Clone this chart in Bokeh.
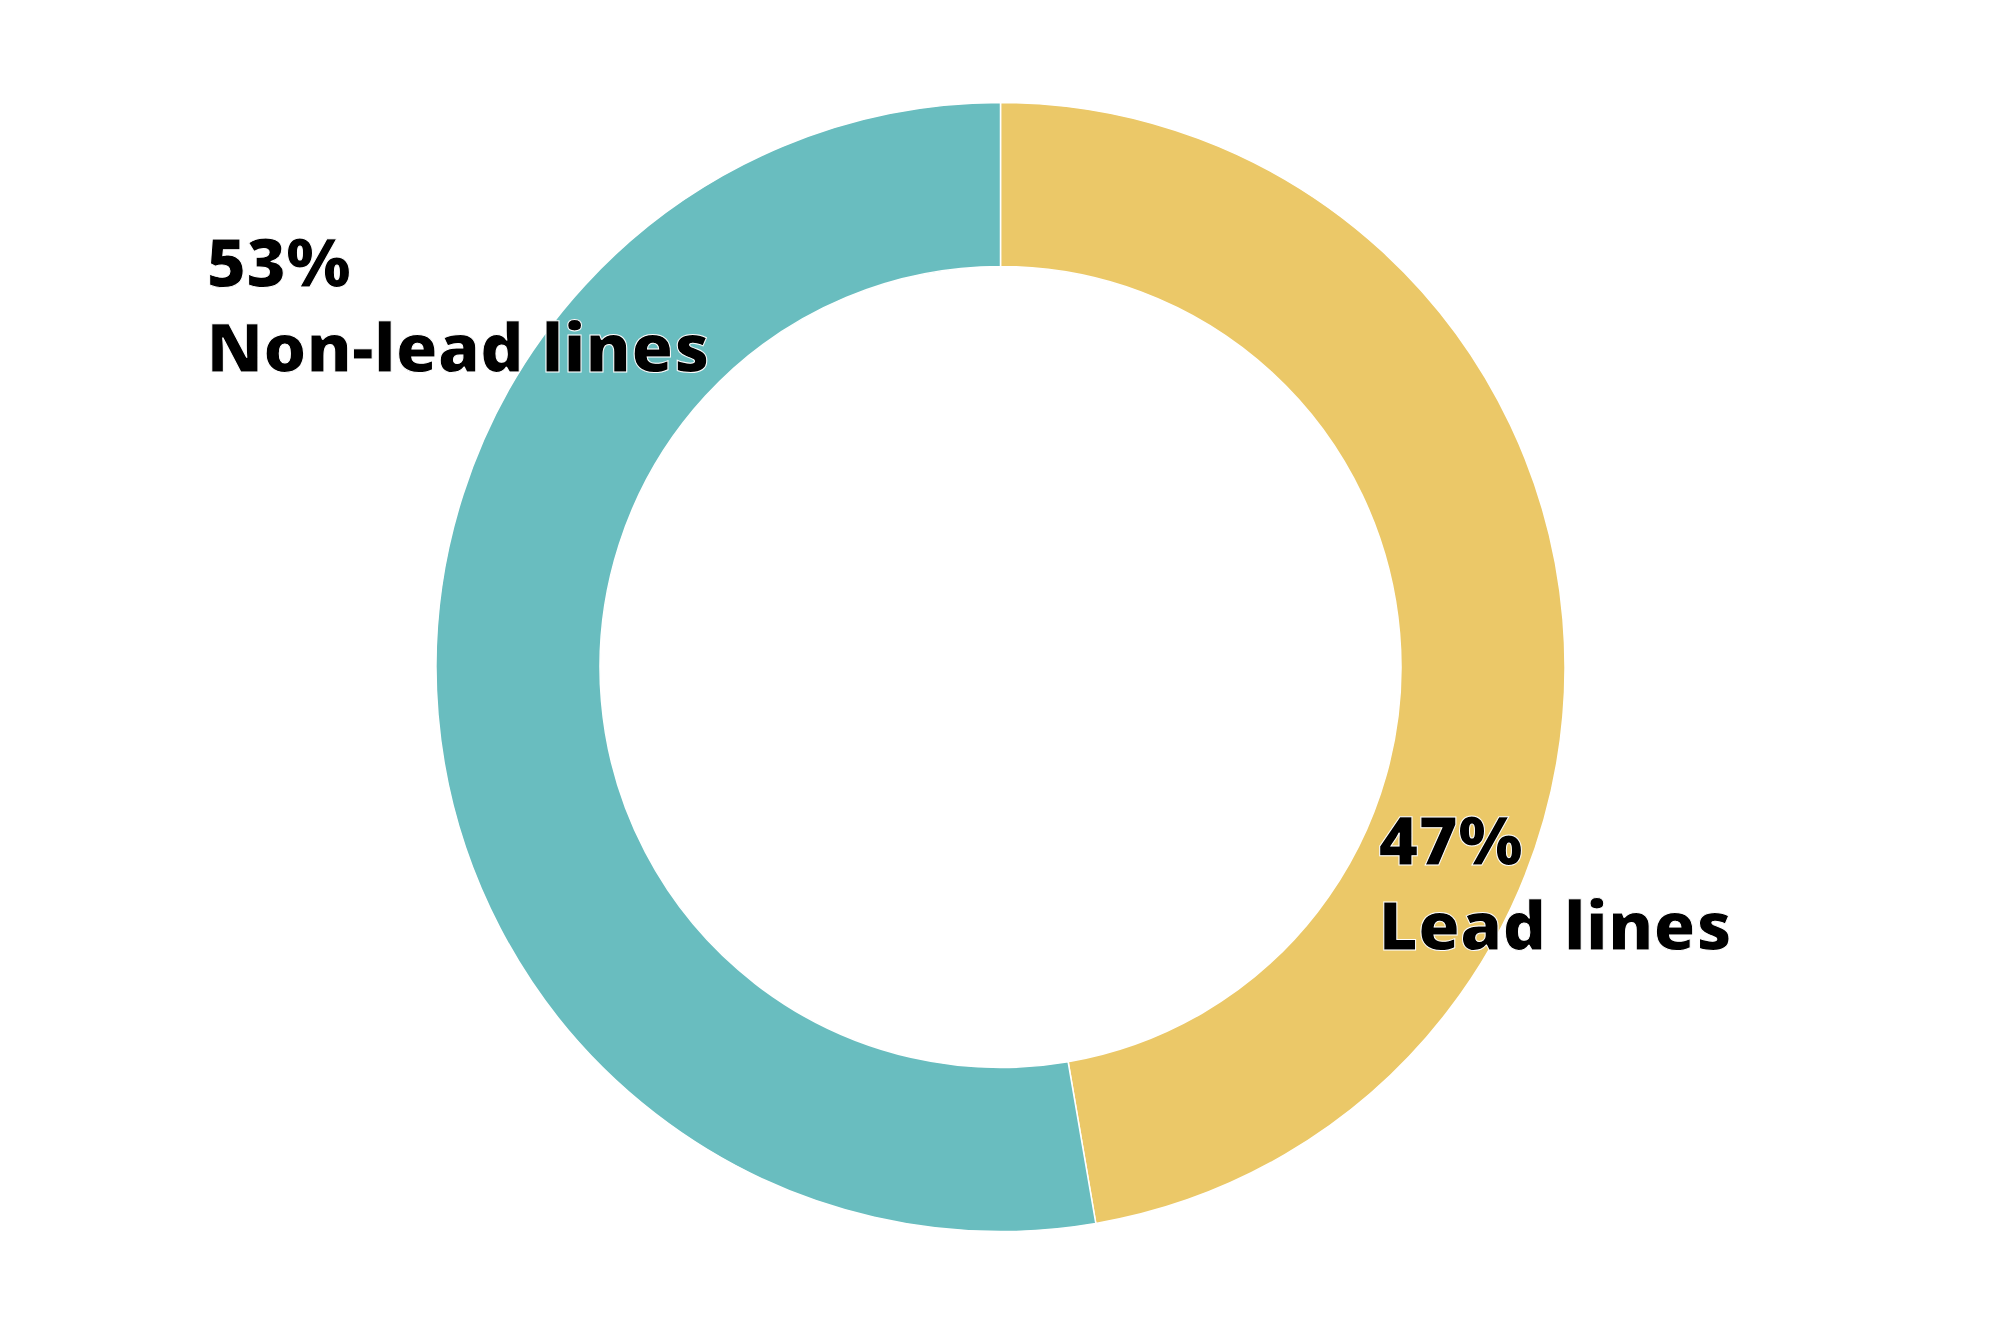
import numpy as np
from bokeh.plotting import figure
from bokeh.models import ColumnDataSource, Range1d
from bokeh.core.properties import value
from bokeh.embed import file_html
from bokeh.resources import INLINE

# data
labels = ["Lead lines", "Non-lead lines"]
shares = [47.3, 52.7]
pct_labels = ["47%", "53%"]
colors = ["#ebc868", "#69bdbf"]

# layout
W, H = 1984, 1317
cx, cy = 1000, 650.5
r_in, r_out = 400.5, 564.5
label_x = [1378, 206]
label_y = [479, 1057]
line_gap = 85

frac = np.array(shares) / sum(shares)
ends = np.cumsum(frac) * 2 * np.pi
starts = ends - frac * 2 * np.pi

src = ColumnDataSource(dict(
    label=labels,
    pct=pct_labels,
    color=colors,
    start=np.pi / 2 - starts,
    end=np.pi / 2 - ends,
    lx=label_x,
    ly=label_y,
    ly2=[y - line_gap for y in label_y],
))

p = figure(width=W, height=H, x_range=Range1d(0, W), y_range=Range1d(0, H),
           x_axis_type=None, y_axis_type=None, min_border=0,
           output_backend="svg", toolbar_location=None)
p.grid.visible = False
p.outline_line_color = None
p.background_fill_color = "white"

p.annular_wedge(x=cx, y=cy, inner_radius=r_in, outer_radius=r_out,
                start_angle="start", end_angle="end", direction="clock",
                fill_color="color", line_color="white", line_width=1.5,
                source=src)

# labels: percent on first line, name on second
for col, yc in (("pct", "ly"), ("label", "ly2")):
    p.text(x="lx", y=yc, text=col, source=src,
           text_font=value("Open Sans ExtraBold, Open Sans"), text_font_style="bold",
           text_font_size="68px", text_color="black",
           text_align="left", text_baseline="alphabetic",
           text_outline_color="white")

open("out.html", "w").write(file_html(p, INLINE))
